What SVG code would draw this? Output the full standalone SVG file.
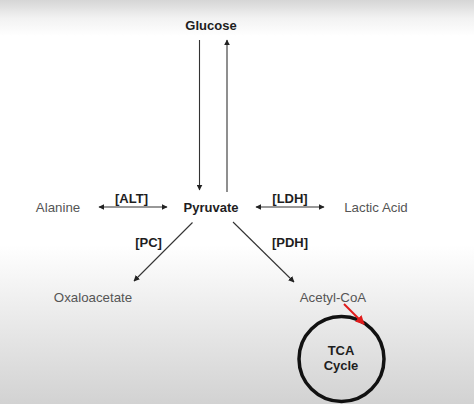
<svg xmlns="http://www.w3.org/2000/svg" width="474" height="404" viewBox="0 0 474 404">
<defs>
<linearGradient id="topg" x1="0" y1="0" x2="0" y2="1">
<stop offset="0" stop-color="#d6d6d6"/>
<stop offset="0.15" stop-color="#dedede"/>
<stop offset="0.5" stop-color="#f2f2f2"/>
<stop offset="1" stop-color="#ffffff"/>
</linearGradient>
<linearGradient id="botg" x1="0" y1="0" x2="0" y2="1">
<stop offset="0" stop-color="#ffffff"/>
<stop offset="0.4" stop-color="#ededed"/>
<stop offset="1" stop-color="#d2d2d2"/>
</linearGradient>
<marker id="ah" viewBox="0 0 10 10" refX="9" refY="5" markerWidth="6" markerHeight="6" markerUnits="userSpaceOnUse" orient="auto-start-reverse">
<path d="M0,0 L10,5 L0,10 z" fill="#222"/>
</marker>
<marker id="ahr" viewBox="0 0 10 10" refX="9" refY="5" markerWidth="9" markerHeight="9" markerUnits="userSpaceOnUse" orient="auto">
<path d="M0,0 L10,5 L0,10 z" fill="#e01b1b"/>
</marker>
</defs>
<style>
.b{font-family:"Liberation Sans",Arial,sans-serif;font-weight:bold;font-size:13px;fill:#1e1e1e;text-anchor:middle}
.r{font-family:"Liberation Sans",Arial,sans-serif;font-size:13.3px;fill:#555;text-anchor:middle}
.c{stroke:#333;stroke-width:1.1;fill:none}
</style>
<rect width="474" height="404" fill="#ffffff"/>
<rect width="474" height="36" fill="url(#topg)"/>
<rect y="245" width="474" height="159" fill="url(#botg)"/>

<g id="glucose"><text class="b" x="211" y="30">Glucose</text></g>
<g id="pyruvate"><text class="b" x="211" y="212">Pyruvate</text></g>
<g id="alanine"><text class="r" x="58" y="212">Alanine</text></g>
<g id="lactic"><text class="r" x="376" y="212">Lactic Acid</text></g>
<g id="oxaloacetate"><text class="r" x="93" y="302">Oxaloacetate</text></g>
<g id="acetylcoa"><text class="r" x="333" y="302">Acetyl-CoA</text></g>
<g id="tca">
<circle cx="341.5" cy="359" r="42.5" fill="none" stroke="#111" stroke-width="3.5"/>
<text class="b" x="341" y="355">TCA</text>
<text class="b" x="341" y="370">Cycle</text>
</g>

<g id="connectors">
<line class="c" x1="199.5" y1="40" x2="199.5" y2="190" marker-end="url(#ah)"/>
<line class="c" x1="227" y1="192" x2="227" y2="40" marker-end="url(#ah)"/>
<line class="c" x1="99" y1="207" x2="167" y2="207" marker-start="url(#ah)" marker-end="url(#ah)"/>
<line class="c" x1="256" y1="207" x2="324" y2="207" marker-start="url(#ah)" marker-end="url(#ah)"/>
<line class="c" x1="192.5" y1="222.5" x2="134" y2="281" marker-end="url(#ah)"/>
<line class="c" x1="233" y1="222" x2="294" y2="282" marker-end="url(#ah)"/>
<line x1="344" y1="304" x2="364" y2="324" stroke="#e01b1b" stroke-width="2" marker-end="url(#ahr)"/>
<text class="b" x="131.5" y="203">[ALT]</text>
<text class="b" x="290" y="203">[LDH]</text>
<text class="b" x="148.5" y="247">[PC]</text>
<text class="b" x="290" y="247">[PDH]</text>
</g>
</svg>
